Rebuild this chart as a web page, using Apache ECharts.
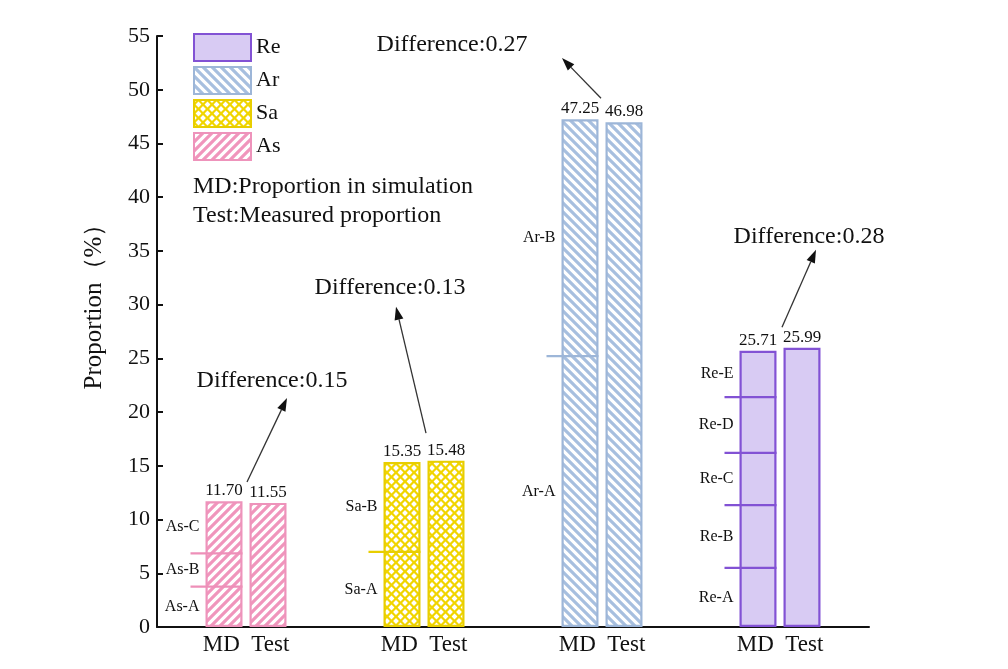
<!DOCTYPE html>
<html><head><meta charset="utf-8">
<script src="https://cdn.jsdelivr.net/npm/echarts@6/dist/echarts.min.js"></script>
<style>html,body{margin:0;padding:0;background:#fff}#c{width:1008px;height:669px}</style>
</head><body><div id="c"></div>
<script>
// ---- data ----
const categories = ['As', 'Sa', 'Ar', 'Re'];
const xTickLabels = ['MD  Test', 'MD  Test', 'MD  Test', 'MD  Test'];
const mdValues = [11.70, 15.35, 47.25, 25.71];
const testValues = [11.55, 15.48, 46.98, 25.99];
const differences = [0.15, 0.13, 0.27, 0.28];
const asBounds = [3.75, 6.86];
const saBounds = [7.0];
const arBounds = [25.2];
const reBounds = [5.5, 11.35, 16.2, 21.4];
const asSegments = ['As-A', 'As-B', 'As-C'];
const saSegments = ['Sa-A', 'Sa-B'];
const arSegments = ['Ar-A', 'Ar-B'];
const reSegments = ['Re-A', 'Re-B', 'Re-C', 'Re-D', 'Re-E'];
const legendOrder = ['Re', 'Ar', 'Sa', 'As'];
const infoLines = ['MD:Proportion in simulation', 'Test:Measured proportion'];
const yAxisName = 'Proportion（%）';

// ---- layout / style ----
const FONT = '"Liberation Serif", "Times New Roman", serif';
const BAR_W = 37, BAR_GAP = 7;
const borderColors = ['#EE93BB', '#E8CE00', '#9DB6D8', '#8252D4'];
const lineColors = ['#EE8FB8', '#E8CE00', '#9DB6D8', '#8252D4'];
// arrow layout: [pixel dx from category centre, value]
const arrowLayout = [
  { tail: [1, 13.5], head: [41, 21.3], text: [26, 22.9] },
  { tail: [2, 18.05], head: [-28, 29.8], text: [-34, 31.55] },
  { tail: [-1, 49.2], head: [-40, 52.95], text: [-150, 54.2] },
  { tail: [2, 27.9], head: [36, 35.1], text: [29, 36.3] }
];

function stripes(color, dir) {
  const s = 9;
  const c = document.createElement('canvas'); c.width = c.height = s;
  const g = c.getContext('2d');
  g.fillStyle = '#fff'; g.fillRect(0, 0, s, s);
  g.strokeStyle = color; g.lineWidth = 3.2; g.beginPath();
  const h = s / 2;
  if (dir > 0) {
    g.moveTo(-h, h); g.lineTo(h, -h); g.moveTo(0, s); g.lineTo(s, 0); g.moveTo(h, s + h); g.lineTo(s + h, h);
  } else {
    g.moveTo(-h, h); g.lineTo(h, s + h); g.moveTo(0, 0); g.lineTo(s, s); g.moveTo(h, -h); g.lineTo(s + h, h);
  }
  g.stroke();
  return c;
}
function dots(color) {
  const s = 9;
  const c = document.createElement('canvas'); c.width = c.height = s;
  const g = c.getContext('2d');
  g.fillStyle = color; g.fillRect(0, 0, s, s);
  g.fillStyle = '#fff';
  const r = 2.9;
  [[0, 0], [s, 0], [0, s], [s, s], [s / 2, s / 2]].forEach(p => {
    g.beginPath();
    g.moveTo(p[0], p[1] - r); g.lineTo(p[0] + r, p[1]); g.lineTo(p[0], p[1] + r); g.lineTo(p[0] - r, p[1]);
    g.closePath(); g.fill();
  });
  return c;
}
const fills = [
  { image: stripes('#F095BC', 1), repeat: 'repeat' },
  { image: dots('#F1D500'), repeat: 'repeat' },
  { image: stripes('#A7BFDF', -1), repeat: 'repeat' },
  '#D8CBF3'
];

const labelStyle = { show: true, position: 'top', distance: 2, fontSize: 17, fontFamily: FONT, color: '#111', formatter: p => p.value.toFixed(2) };

const series = [];
categories.forEach((cat, i) => {
  [[mdValues, 'MD'], [testValues, 'Test']].forEach(([vals, st]) => {
    series.push({
      type: 'bar', name: cat, stack: st, barWidth: BAR_W, barGap: (BAR_GAP / BAR_W * 100) + '%',
      data: categories.map((_, j) => j === i ? vals[i] : '-'),
      itemStyle: { color: fills[i], borderColor: borderColors[i], borderWidth: 2.2 },
      label: labelStyle
    });
  });
});

const boundsList = [asBounds, saBounds, arBounds, reBounds];
const segList = [asSegments, saSegments, arSegments, reSegments];
const dividerData = [];
boundsList.forEach((b, i) => b.forEach(v => dividerData.push([i, v])));
const segData = [];
const segText = [];
boundsList.forEach((b, i) => {
  const edges = [0].concat(b, [mdValues[i]]);
  for (let k = 0; k < edges.length - 1; k++) {
    segData.push([i, (edges[k] + edges[k + 1]) / 2]);
    segText.push(segList[i][k]);
  }
});

series.push({
  type: 'custom', name: 'dividers', z: 5, silent: true, clip: false,
  encode: { x: 0, y: 1 },
  data: dividerData,
  renderItem: (params, api) => {
    const i = api.value(0);
    const p = api.coord([i, api.value(1)]);
    const left = p[0] - BAR_GAP / 2 - BAR_W;
    return { type: 'line', shape: { x1: left - 15, y1: p[1], x2: left + BAR_W, y2: p[1] },
      style: { stroke: lineColors[i], lineWidth: 2.2 } };
  }
});
series.push({
  type: 'custom', name: 'segments', z: 5, silent: true, clip: false,
  encode: { x: 0, y: 1 },
  data: segData,
  renderItem: (params, api) => {
    const i = api.value(0);
    const p = api.coord([i, api.value(1)]);
    const left = p[0] - BAR_GAP / 2 - BAR_W;
    return { type: 'text', x: left - 6, y: p[1],
      style: { text: segText[params.dataIndex], align: 'right', verticalAlign: 'middle', textAlign: 'right', textVerticalAlign: 'middle',
        fontSize: 16, fontFamily: FONT, fill: '#111' } };
  }
});
series.push({
  type: 'custom', name: 'differences', z: 6, silent: true, clip: false,
  encode: { x: 0, y: 1 },
  data: categories.map((c, i) => [i, 0]),
  renderItem: (params, api) => {
    const i = api.value(0);
    const L = arrowLayout[i];
    const cx = api.coord([i, 0])[0];
    const tx = cx + L.tail[0], ty = api.coord([i, L.tail[1]])[1];
    const hx = cx + L.head[0], hy = api.coord([i, L.head[1]])[1];
    const ang = Math.atan2(hy - ty, hx - tx);
    const len = 13, hw = 4.5;
    const bx = hx - len * Math.cos(ang), by = hy - len * Math.sin(ang);
    const pts = [[hx, hy], [bx - hw * Math.sin(ang), by + hw * Math.cos(ang)], [bx + hw * Math.sin(ang), by - hw * Math.cos(ang)]];
    return { type: 'group', children: [
      { type: 'line', shape: { x1: tx, y1: ty, x2: bx, y2: by }, style: { stroke: '#333', lineWidth: 1.3 } },
      { type: 'polygon', shape: { points: pts }, style: { fill: '#111' } },
      { type: 'text', x: cx + L.text[0], y: api.coord([i, L.text[1]])[1],
        style: { text: 'Difference:' + differences[i].toFixed(2), align: 'center', verticalAlign: 'middle', textAlign: 'center', textVerticalAlign: 'middle',
          fontSize: 24, fontFamily: FONT, fill: '#111' } }
    ] };
  }
});

const chart = echarts.init(document.getElementById('c'), null, { renderer: 'canvas' });
chart.setOption({
  animation: false,
  backgroundColor: '#fff',
  grid: { left: 157, right: 139, top: 36, bottom: 42, containLabel: false },
  legend: {
    data: legendOrder.map(n => ({ name: n })),
    orient: 'vertical', left: 193, top: 33, padding: 0, itemWidth: 57, itemHeight: 27, itemGap: 4, icon: 'rect',
    selectedMode: false,
    textStyle: { fontSize: 22, fontFamily: FONT, color: '#111' }
  },
  graphic: infoLines.map((t, k) => ({
    type: 'text', left: 193, top: 175 + k * 29,
    style: { text: t, fontSize: 24, fontFamily: FONT, fill: '#111' }
  })),
  xAxis: {
    type: 'category', data: categories,
    axisLine: { lineStyle: { color: '#111', width: 2 } },
    axisTick: { show: false },
    axisLabel: { formatter: (v, i) => xTickLabels[i], fontSize: 23, fontFamily: FONT, color: '#111', margin: 6 }
  },
  yAxis: {
    type: 'value', min: 0, max: 55, interval: 5,
    name: yAxisName, nameLocation: 'middle', nameGap: 50,
    nameTextStyle: { fontSize: 25, fontFamily: FONT, color: '#111', padding: [0, 0, 0, 62] },
    axisLine: { show: true, lineStyle: { color: '#111', width: 2 } },
    axisTick: { show: true, inside: true, length: 6, lineStyle: { color: '#111', width: 2 } },
    splitLine: { show: false },
    axisLabel: { fontSize: 22, fontFamily: FONT, color: '#111', margin: 7 }
  },
  series: series
});
</script>
</body></html>
